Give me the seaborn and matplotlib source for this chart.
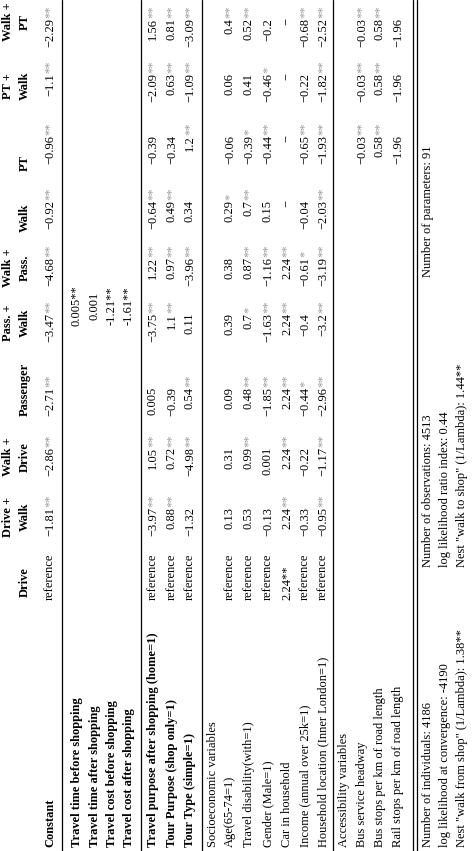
import matplotlib
matplotlib.use("Agg")
import matplotlib.pyplot as plt
import seaborn as sns

sns.set_style("white")
plt.rcParams['font.family'] = ['Liberation Serif', 'DejaVu Serif']

# table content
modes = [["Drive"], ["Drive +", "Walk"], ["Walk +", "Drive"], ["Passenger"], ["Pass. +", "Walk"],
         ["Walk +", "Pass."], ["Walk"], ["PT"], ["PT +", "Walk"], ["Walk +", "PT"]]

row_labels = ["Constant",
              "Travel purpose after shopping (home=1)", "Tour Purpose (shop only=1)", "Tour Type (simple=1)",
              "Age(65-74=1)", "Travel disability(with=1)", "Gender (Male=1)", "Car in household",
              "Income (annual over 25k=1)", "Household location (Inner London=1)"]
row_bold = [True, True, True, True, False, False, False, False, False, False]
row_values = [
    ["reference", "-1.81**", "-2.86**", "-2.71**", "-3.47**", "-4.68**", "-0.92**", "-0.96**", "-1.1**", "-2.29**"],
    ["reference", "-3.97**", "1.05**", "0.005", "-3.75**", "1.22**", "-0.64**", "-0.39", "-2.09**", "1.56**"],
    ["reference", "0.88**", "0.72**", "-0.39", "1.1**", "0.97**", "0.49**", "-0.34", "0.63**", "0.81**"],
    ["reference", "-1.32", "-4.98**", "0.54**", "0.11", "-3.96**", "0.34", "1.2**", "-1.09**", "-3.09**"],
    ["reference", "0.13", "0.31", "0.09", "0.39", "0.38", "0.29*", "-0.06", "0.06", "0.4**"],
    ["reference", "0.53", "0.99**", "0.48**", "0.7*", "0.87**", "0.7**", "-0.39*", "0.41", "0.52**"],
    ["reference", "-0.13", "0.001", "-1.85**", "-1.63**", "-1.16**", "0.15", "-0.44**", "-0.46*", "-0.2"],
    ["2.24**", "2.24**", "2.24**", "2.24**", "2.24**", "2.24**", "-", "-", "-", "-"],
    ["reference", "-0.33", "-0.22", "-0.44*", "-0.4", "-0.61*", "-0.04", "-0.65**", "-0.22", "-0.68**"],
    ["reference", "-0.95**", "-1.17**", "-2.96**", "-3.2**", "-3.19**", "-2.03**", "-1.93**", "-1.82**", "-2.52**"],
]

time_labels = ["Travel time before shopping", "Travel time after shopping",
               "Travel cost before shopping", "Travel cost after shopping"]
time_values = ["0.005**", "0.001", "-1.21**", "-1.61**"]

access_labels = ["Bus service headway", "Bus stops per km of road length", "Rail stops per km of road length"]
access_values = [["-0.03**", "-0.03**", "-0.03**"], ["0.58**", "0.58**", "0.58**"], ["-1.96", "-1.96", "-1.96"]]

footer = [["Number of individuals: 4186", "log likelihood at convergence: -4190",
           'Nest "walk from shop" (1/Lambda): 1.38**'],
          ["Number of observations: 4513", "log likelihood ratio index: 0.44",
           'Nest "walk to shop" (1/Lambda): 1.44**'],
          ["Number of parameters: 91"]]

# layout (image pixels: x = original row position, y = original column position)
label_y = 847
head_y = [582, 517, 457, 389, 323, 268, 218, 163, 86, 22]
anchor_y = [600, 507, 447, 387, 313, 257, 200, 135, 73, 18]
row_x = [50, 153, 172, 190, 230, 249, 268, 287, 305, 323]
time_x = [77, 95, 112, 129]
access_x = [362, 380, 398]
footer_x = [428, 445, 462]
footer_y = [847, 567, 277]
FS = 9

fig = plt.figure(figsize=(4.74, 8.51), dpi=100)
ax = fig.add_axes([0, 0, 1, 1])
ax.set_xlim(0, 474)
ax.set_ylim(851, 0)
ax.axis("off")


def txt(x, y, s, ha="left", bold=False, color="black"):
    ax.text(x, y, s, rotation=90, rotation_mode="anchor", ha=ha, va="center",
            fontsize=FS, fontweight="bold" if bold else "normal", color=color)


def value(x, y, s, col):
    s = s.replace("-", "\u2212")
    if col == 0:
        txt(x, y, s, ha="left")
        return
    num = s.rstrip("*")
    stars = s[len(num):]
    txt(x, y, num, ha="right")
    if stars:
        txt(x, y, stars, ha="left", color="#9a9a9a")


# headers
for lines, y in zip(modes, head_y):
    if len(lines) == 1:
        txt(25, y, lines[0], ha="center", bold=True)
    else:
        txt(8, y, lines[0], ha="center", bold=True)
        txt(25, y, lines[1], ha="center", bold=True)

# main rows
for lab, bold, vals, x in zip(row_labels, row_bold, row_values, row_x):
    txt(x, label_y, lab, bold=bold)
    for j, v in enumerate(vals):
        value(x, anchor_y[j], v, j)

for lab, v, x in zip(time_labels, time_values, time_x):
    txt(x, label_y, lab, bold=True)
    txt(x, 306, v, ha="center")

txt(213, label_y, "Socioeconomic variables")
txt(344, label_y, "Accessibility variables")
for lab, vals, x in zip(access_labels, access_values, access_x):
    txt(x, label_y, lab)
    for j, v in enumerate(vals):
        value(x, anchor_y[7 + j], v, 7 + j)

for col, y in zip(footer, footer_y):
    for s, x in zip(col, footer_x):
        txt(x, y, s)

for lx in [62, 141, 202, 333, 413, 417]:
    ax.axvline(lx, color="black", lw=0.9)

fig.savefig("out.png", dpi=100)
